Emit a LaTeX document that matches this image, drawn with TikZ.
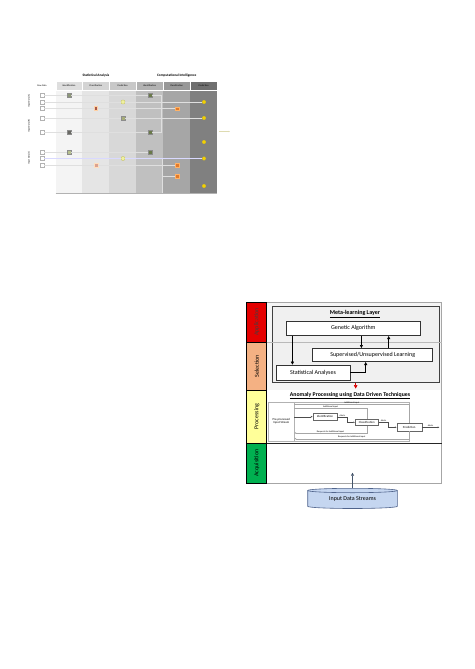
\documentclass[tikz,border=0pt]{standalone}
\usepackage{fontspec}
\setmainfont{Carlito}
\usetikzlibrary{arrows.meta,calc}
\definecolor{col1}{RGB}{244,244,244}
\definecolor{col2}{RGB}{229,229,229}
\definecolor{col3}{RGB}{216,216,216}
\definecolor{col4}{RGB}{192,192,192}
\definecolor{col5}{RGB}{166,166,166}
\definecolor{col6}{RGB}{128,128,128}
\definecolor{hd1}{RGB}{222,222,222}
\definecolor{hd2}{RGB}{212,212,212}
\definecolor{hd3}{RGB}{200,200,200}
\definecolor{hd4}{RGB}{178,178,178}
\definecolor{hd5}{RGB}{152,152,152}
\definecolor{hd6}{RGB}{112,112,112}
\definecolor{sqa}{RGB}{140,152,120}
\definecolor{sqdark}{RGB}{105,105,100}
\definecolor{sqlight}{RGB}{182,192,142}
\definecolor{sqred}{RGB}{168,88,74}
\definecolor{sqsalmon}{RGB}{220,162,144}
\definecolor{sqpale}{RGB}{238,240,160}
\definecolor{sqolive}{RGB}{166,172,120}
\definecolor{sqdolive}{RGB}{106,122,74}
\definecolor{sqorange}{RGB}{224,122,44}
\definecolor{sqyellow}{RGB}{242,208,0}
\definecolor{appred}{RGB}{228,0,0}
\definecolor{selpeach}{RGB}{244,177,131}
\definecolor{proyellow}{RGB}{255,255,153}
\definecolor{acqgreen}{RGB}{0,176,80}
\definecolor{metafill}{RGB}{240,240,240}
\definecolor{cylfill}{RGB}{197,214,240}
\definecolor{cyldraw}{RGB}{80,100,140}
\definecolor{arrslate}{RGB}{68,84,106}
\begin{document}
\begin{tikzpicture}[x=1pt,y=-1pt,
  fs/.style={font=\fontsize{#1}{#1}\selectfont},
  fsb/.style={font=\fontsize{#1}{#1}\selectfont\bfseries},
  hdr/.style={fs=2.4, draw=white, line width=0.4pt, minimum height=9pt, inner sep=0pt},
  rawsq/.style={draw=gray!60, fill=white, line width=0.3pt, minimum size=3.8pt, inner sep=0pt},
  csq/.style={draw=black!45, line width=0.25pt, minimum size=3.6pt, inner sep=0pt},
  ccirc/.style={circle, draw=black!50, line width=0.25pt, minimum size=4.2pt, inner sep=0pt},
  faint/.style={draw=gray!25, line width=0.25pt},
  box/.style={draw=black!80, fill=white, line width=0.6pt, inner sep=0pt, fs=6},
  arr/.style={-{Triangle[length=3pt,width=3pt]}, line width=0.5pt},
  pbox/.style={draw=black!60, fill=white, line width=0.35pt, inner sep=0pt, fs=3},
  plab/.style={fs=2.3, inner sep=0.4pt},
  parr/.style={-{Triangle[length=1.6pt,width=1.4pt]}, line width=0.3pt, draw=black!70},
  pline/.style={draw=gray!70, line width=0.3pt},
]
\fill[white] (0,0) rectangle (474,669);
\useasboundingbox (0,0) rectangle (474,669);

%% ---------- top figure ----------
\node[fsb=3.5] (tsa) at (96,75.5) {Statistical Analysis};
\node[fsb=3.5] (tci) at (176.7,75.5) {Computational Intelligence};
\foreach \i/\xa/\xb/\t in {1/55.7/82.3/Identification,2/82.3/109.3/Classification,3/109.3/136/Prediction,4/136/163.3/Identification,5/163.3/190/Classification,6/190/217.3/Prediction}{
  \fill[col\i] (\xa,90) rectangle (\xb,193);
  \node[hdr, fill=hd\i, minimum width={\xb-\xa}] (h\i) at ({(\xa+\xb)/2},85.5) {\t};
}
\draw[gray!60, line width=0.5pt] (55.7,193) -- (217.3,193);
\node[fs=2.4] (hraw) at (42,86) {Raw Data};
\node[fs=2.3, rotate=90] (la) at (29,101) {Input Data (A)};
\node[fs=2.3, rotate=90] (lb) at (29,126) {Input Data (B)};
\node[fs=2.3, rotate=90] (lc) at (29,158) {Input Data (C)};

\node[rawsq] (r1) at (42,95) {};
\node[rawsq] (r2) at (42,102) {};
\node[rawsq] (r3) at (42,108.5) {};
\node[rawsq] (r4) at (42,118) {};
\node[rawsq] (r5) at (42,132) {};
\node[rawsq] (r6) at (42,152) {};
\node[rawsq] (r7) at (42,158.5) {};
\node[rawsq] (r8) at (42,165) {};

\node[csq, fill=sqa] (a1) at (69,95) {};
\node[csq, fill=sqdark] (a2) at (69,132) {};
\node[csq, fill=sqlight] (a3) at (69,152) {};
\node[csq, fill=sqred, draw=orange!35, line width=0.7pt] (b1) at (96,108.5) {};
\node[csq, fill=sqsalmon, draw=orange!25, line width=0.6pt] (b2) at (96,165) {};
\node[ccirc, fill=sqpale, draw=olive!60] (c1) at (123,102) {};
\node[csq, fill=sqolive] (c2) at (123,118) {};
\node[ccirc, fill=sqpale, draw=olive!60] (c3) at (123,158.5) {};
\node[csq, fill=sqdolive] (d1) at (150,95) {};
\node[csq, fill=sqdolive] (d2) at (150,132) {};
\node[csq, fill=sqdolive] (d3) at (150,152) {};
\node[csq, fill=sqorange, draw=orange!60] (e1) at (177,108.5) {};
\node[csq, fill=sqorange, draw=orange!60] (e2) at (177,165) {};
\node[csq, fill=sqorange, draw=orange!60] (e3) at (177,176) {};
\node[ccirc, fill=sqyellow] (f1) at (204,102) {};
\node[ccirc, fill=sqyellow] (f2) at (204,118) {};
\node[ccirc, fill=sqyellow] (f3) at (204,142) {};
\node[ccirc, fill=sqyellow] (f4) at (204,158.5) {};
\node[ccirc, fill=sqyellow] (f5) at (204,186) {};

\draw[faint] (r1) -- (a1) -- (d1);
\draw[faint] (r2) -- (c1) -- (f1);
\draw[faint] (r3) -- (b1) -- (e1);
\draw[faint] (r4) -- (c2) -- (f2);
\draw[faint] (r5) -- (a2) -- (d2);
\draw[faint] (r6) -- (a3) -- (d3);
\draw[faint, draw=blue!15] (r7) -- (c3) -- (f4);
\draw[faint] (r8) -- (b2) -- (e2);
\draw[faint] (d1.east) -- ++(9,0) |- (d2.east);
\coordinate (vtop) at (162,158.5);
\coordinate (vbot) at (162,193);
\draw[faint] (vtop) -- (vbot);
\draw[faint] (vtop |- e3) -- (e3.west);
\coordinate (fa1) at (219,131.5);
\coordinate (fa2) at (230,131.5);
\draw[faint, draw=yellow!40!gray!50, -{Stealth[length=1.5pt]}] (fa1) -- (fa2);

%% ---------- bottom figure ----------
\fill[black!4] (266.7,302) rectangle (441.7,390);
\draw[gray!70, line width=0.8pt] (246.7,302) rectangle (441.7,483);
\draw[fill=appred, line width=0.5pt] (246.7,302) rectangle (266.7,342);
\draw[fill=selpeach, line width=0.5pt] (246.7,342) rectangle (266.7,390);
\draw[fill=proyellow, line width=0.5pt] (246.7,390) rectangle (266.7,443);
\draw[fill=acqgreen, line width=0.5pt] (246.7,443) rectangle (266.7,483);
\draw[gray!30!black, line width=0.8pt] (266.7,443) -- (441.7,443);

\node[fs=6, rotate=90, text=black!75] (lapp) at (256.7,322) {Application};
\node[fs=6, rotate=90] (lsel) at (256.7,366) {Selection};
\node[fs=6, rotate=90] (lpro) at (256.7,416.5) {Processing};
\node[fs=6, rotate=90] (lacq) at (256.7,463) {Acquisition};

\node[draw=black!75, fill=metafill, line width=0.7pt, minimum width=166.7pt, minimum height=76.3pt, inner sep=0pt] (meta) at (355.65,344.15) {};
\draw[gray!55, line width=0.6pt] (266.7,342) -- (441.7,342);
\node[fsb=6] (metat) at (355,314) {\underline{Meta-learning Layer}};
\node[box, minimum width=134.7pt, minimum height=14.7pt] (ga) at (353.35,328.35) {Genetic Algorithm};
\node[box, minimum width=120pt, minimum height=13.4pt] (sul) at (372.7,355) {Supervised/Unsupervised Learning};
\node[box, minimum width=74pt, minimum height=15pt] (sa) at (313,372.5) {Statistical Analyses};

\coordinate (g1) at ($(ga.south west)+(6.7,0)$);
\coordinate (g2) at ($(ga.south west)+(75.7,0)$);
\coordinate (s1) at ($(sul.north west)+(76.3,0)$);
\coordinate (s2) at ($(sul.south west)+(53.3,0)$);
\draw[arr] (g1) -- (g1 |- sa.north);
\draw[arr] (g2) -- (g2 |- sul.north);
\draw[arr] (s1) -- (s1 |- ga.south);
\draw[arr] (sa.east) -| (s2);

\node[fsb=5.8] (apt) at (350,395.7) {\underline{Anomaly Processing using Data Driven Techniques}};
\draw[-{Triangle[length=3.5pt,width=3.5pt]}, draw=red!85!black, fill=red!85!black, line width=0.6pt] (meta.south) -- (meta.south |- apt.north);

\node[draw=gray!60, line width=0.3pt, minimum width=141pt, minimum height=39.3pt, inner sep=0pt] (pframe) at (338.8,421.35) {};
\node[draw=gray!60, line width=0.3pt, minimum width=26pt, minimum height=39.3pt, inner sep=0pt, fs=3, align=center] (pre) at (281.3,421.35) {Pre-processed\\[0.6pt]Input Stream};
\node[pbox, minimum width=24.6pt, minimum height=6.7pt] (idn) at (325,416.7) {Identification};
\node[pbox, minimum width=23.3pt, minimum height=6.7pt] (cls) at (366.7,422.3) {Classification};
\node[pbox, minimum width=25pt, minimum height=7.3pt] (prd) at (409.2,427.3) {Prediction};

\coordinate (ai1) at (409.2,404);
\coordinate (ai2) at (366.7,408.5);
\coordinate (rq1) at (366.7,433);
\coordinate (rq2) at (409.2,438.7);
\draw[pline] (pre.east |- ai1) -- node[plab, above]{Additional input} (ai1) -- (prd.north);
\draw[pline] (pre.east |- ai2) -- node[plab, above]{Additional input} (ai2) -- (cls.north);
\draw[parr, draw=gray!70] (cls.south) -- (rq1) -- node[plab, above]{Requests for Additional input} (pre.east |- rq1);
\draw[parr, draw=gray!70] (prd.south) -- (rq2) -- node[plab, above]{Requests for Additional input} (pre.east |- rq2);
\draw[parr] (pre.east |- idn.west) -- (idn.west);
\draw[parr] (idn.east) -- node[plab, above]{Alerts} ++(10,0) |- (cls.west);
\draw[parr] (cls.east) -- node[plab, above]{Alerts} ++(10,0) |- (prd.west);
\coordinate (aout) at (439.3,427.3);
\draw[parr] (prd.east) -- node[plab, above]{Alerts} (aout);

\draw[draw=cyldraw, fill=cylfill, line width=0.6pt] (307.7,490.5) -- (307.7,506.3) arc[start angle=180, end angle=360, x radius=44.8pt, y radius=2.2pt] -- (397.3,490.5) arc[start angle=0, end angle=180, x radius=44.8pt, y radius=2.2pt] -- cycle;
\draw[draw=cyldraw, line width=0.6pt] (307.7,490.5) arc[start angle=180, end angle=360, x radius=44.8pt, y radius=2.2pt];
\node[fs=6] (ids) at (352.5,499) {Input Data Streams};
\coordinate (cyltop) at (352.5,488.3);
\coordinate (uptip) at (352.5,472.7);
\draw[-{Triangle[length=3pt,width=3pt]}, draw=arrslate, fill=arrslate, line width=0.7pt] (cyltop) -- (uptip);
\end{tikzpicture}
\end{document}
